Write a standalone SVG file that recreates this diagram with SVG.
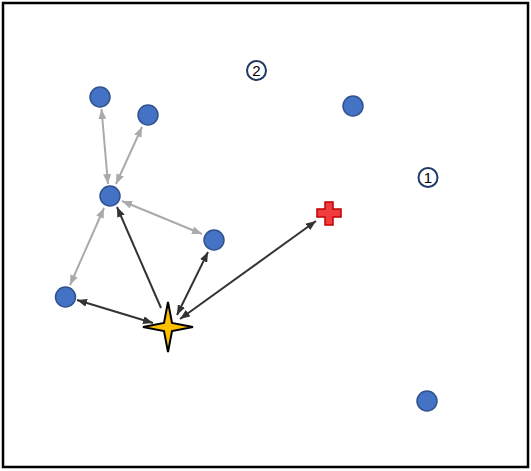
<svg xmlns="http://www.w3.org/2000/svg" width="531" height="471" viewBox="0 0 531 471">
<defs>
<style>
.n{fill:#4472C4;stroke:#2F528F;stroke-width:1.5}
.g{stroke:#AAAAAA;stroke-width:2;fill:none}
.d{stroke:#333333;stroke-width:2;fill:none}
.lab circle{fill:#fff;stroke:#1F3864;stroke-width:2}
.lab text{font-family:"Liberation Sans",Arial,sans-serif;font-size:15px;fill:#000;text-anchor:middle}
</style>
<marker id="ag" viewBox="0 0 10 8" refX="10" refY="4" markerWidth="10" markerHeight="8" markerUnits="userSpaceOnUse" orient="auto-start-reverse"><path d="M0,0 L10,4 L0,8 z" fill="#AAAAAA"/></marker>
<marker id="ad" viewBox="0 0 10 8" refX="10" refY="4" markerWidth="10" markerHeight="8" markerUnits="userSpaceOnUse" orient="auto-start-reverse"><path d="M0,0 L10,4 L0,8 z" fill="#333333"/></marker>
</defs>
<rect x="3" y="3" width="525" height="464" fill="#fff" stroke="#000" stroke-width="2.5"/>
<g id="connectors">
<line class="g" x1="101.5" y1="109" x2="108" y2="184" marker-start="url(#ag)" marker-end="url(#ag)"/>
<line class="g" x1="142" y1="127" x2="116" y2="184" marker-start="url(#ag)" marker-end="url(#ag)"/>
<line class="g" x1="122" y1="201" x2="202" y2="234" marker-start="url(#ag)" marker-end="url(#ag)"/>
<line class="g" x1="104" y1="208" x2="70" y2="285" marker-start="url(#ag)" marker-end="url(#ag)"/>
<line class="d" x1="161" y1="308" x2="117" y2="207" marker-end="url(#ad)"/>
<line class="d" x1="177" y1="315" x2="208" y2="252" marker-start="url(#ad)" marker-end="url(#ad)"/>
<line class="d" x1="180" y1="319" x2="316" y2="221" marker-start="url(#ad)" marker-end="url(#ad)"/>
<line class="d" x1="153" y1="323" x2="77" y2="300" marker-start="url(#ad)" marker-end="url(#ad)"/>
</g>
<g id="nA"><circle class="n" cx="100" cy="97" r="10"/></g>
<g id="nB"><circle class="n" cx="148" cy="115" r="10"/></g>
<g id="nC"><circle class="n" cx="110" cy="196" r="10"/></g>
<g id="nD"><circle class="n" cx="214" cy="240" r="10"/></g>
<g id="nE"><circle class="n" cx="65.5" cy="297" r="10"/></g>
<g id="nF"><circle class="n" cx="353" cy="106" r="10"/></g>
<g id="nG"><circle class="n" cx="427" cy="401" r="10"/></g>
<g id="star"><path d="M168,302 L172,323 L193,327 L172,331 L168,352 L164,331 L143,327 L164,323 Z" fill="#FFC000" stroke="#000" stroke-width="2" stroke-linejoin="miter"/></g>
<g id="cross"><path d="M325,202 H333 V209 H341 V217 H333 V225 H325 V217 H317 V209 H325 Z" fill="#F03C3C" stroke="#C00000" stroke-width="1.5"/></g>
<g id="label2" class="lab"><circle cx="256.5" cy="70.5" r="9.5"/><text x="256.5" y="76">2</text></g>
<g id="label1" class="lab"><circle cx="428" cy="177.5" r="9.5"/><text x="428" y="183">1</text></g>
</svg>
